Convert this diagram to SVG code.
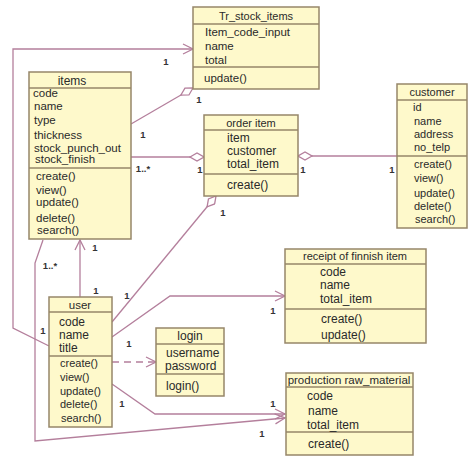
<svg xmlns="http://www.w3.org/2000/svg" width="474" height="470" viewBox="0 0 474 470">
<defs>
<style>
.box{fill:#fef9cb;stroke:#968669;stroke-width:1.5}
.sep{stroke:#968669;stroke-width:1.5}
text{font-family:"Liberation Sans",Arial,sans-serif;fill:#2a2a2a}
.t{font-size:11px;text-anchor:middle}
.a{font-size:11.5px}
.s{font-size:11px}
.c{fill:none;stroke:#b47f9c;stroke-width:1.3}
.d{stroke-dasharray:7,5}
.m{font-size:9.5px;font-weight:bold;text-anchor:middle;fill:#333}
</style>
<marker id="arr" markerUnits="userSpaceOnUse" markerWidth="14" markerHeight="14" viewBox="-11 -7 13 14" refX="0" refY="0" orient="auto">
<path d="M-10,-5 L0,0 L-10,5" fill="none" stroke="#b47f9c" stroke-width="1.3"/>
</marker>
<marker id="dia" markerUnits="userSpaceOnUse" markerWidth="16" markerHeight="10" viewBox="-1 -5 16 10" refX="14" refY="0" orient="auto">
<path d="M0,0 L7,-4 L14,0 L7,4 Z" fill="#ffffff" stroke="#b47f9c" stroke-width="1.3"/>
</marker>
</defs>

<g id="connectors">
<polyline class="c" points="49,346 13,328 13,49 193,49" marker-end="url(#arr)"/>
<line class="c" x1="131" y1="124" x2="193" y2="88" marker-end="url(#dia)"/>
<line class="c" x1="131" y1="157" x2="204" y2="157" marker-end="url(#dia)"/>
<line class="c" x1="397" y1="156" x2="298" y2="156" marker-end="url(#dia)"/>
<line class="c" x1="112" y1="322" x2="216" y2="196" marker-end="url(#dia)"/>
<line class="c" x1="80" y1="297" x2="80" y2="240" marker-end="url(#arr)"/>
<polyline class="c" points="43,240 35,263 35,441 285,418" marker-end="url(#arr)"/>
<polyline class="c" points="112,337 170,296 285,296" marker-end="url(#arr)"/>
<line class="c d" x1="112" y1="362" x2="156" y2="362" marker-end="url(#arr)"/>
<polyline class="c" points="112,384 155,414 285,414" marker-end="url(#arr)"/>
<text class="m" x="166" y="65">1</text>
<text class="m" x="143" y="138">1</text>
<text class="m" x="199" y="103">1</text>
<text class="m" x="143" y="172">1..*</text>
<text class="m" x="200" y="173">1</text>
<text class="m" x="303" y="173">1</text>
<text class="m" x="392" y="173">1</text>
<text class="m" x="223" y="216">1</text>
<text class="m" x="127" y="299">1</text>
<text class="m" x="95" y="251">1</text>
<text class="m" x="96" y="294">1</text>
<text class="m" x="50" y="269">1..*</text>
<text class="m" x="43" y="334">1</text>
<text class="m" x="273" y="314">1</text>
<text class="m" x="129" y="347">1</text>
<text class="m" x="273" y="407">1</text>
<text class="m" x="262" y="437">1</text>
<text class="m" x="122" y="407">1</text>
</g>

<g id="tr_stock_items">
<rect class="box" x="193" y="7" width="126" height="82"/>
<line class="sep" x1="193" y1="24" x2="319" y2="24"/>
<line class="sep" x1="193" y1="67" x2="319" y2="67"/>
<text class="t" x="256" y="20">Tr_stock_items</text>
<text class="a" x="205" y="36">Item_code_input</text>
<text class="a" x="205" y="50">name</text>
<text class="a" x="205" y="64">total</text>
<text class="a" x="204" y="82">update()</text>
</g>

<g id="items">
<rect class="box" x="29" y="72" width="102" height="167"/>
<line class="sep" x1="29" y1="88" x2="131" y2="88"/>
<line class="sep" x1="29" y1="168" x2="131" y2="168"/>
<text class="t" x="72" y="85" style="font-size:12px">items</text>
<text class="a" x="33" y="97">code</text>
<text class="a" x="34" y="110">name</text>
<text class="a" x="34" y="124">type</text>
<text class="a" x="34" y="139">thickness</text>
<text class="a" x="34" y="152">stock_punch_out</text>
<text class="a" x="35" y="163">stock_finish</text>
<text class="a" x="36" y="180">create()</text>
<text class="a" x="36" y="194">view()</text>
<text class="a" x="36" y="206">update()</text>
<text class="a" x="36" y="222">delete()</text>
<text class="a" x="37" y="234">search()</text>
</g>

<g id="order_item">
<rect class="box" x="204" y="115" width="94" height="81"/>
<line class="sep" x1="204" y1="130" x2="298" y2="130"/>
<line class="sep" x1="204" y1="174" x2="298" y2="174"/>
<text class="t" x="251" y="127">order item</text>
<text class="a" x="227" y="142" style="font-size:12px">item</text>
<text class="a" x="227" y="155" style="font-size:12px">customer</text>
<text class="a" x="227" y="168" style="font-size:12px">total_item</text>
<text class="a" x="227" y="189" style="font-size:12px">create()</text>
</g>

<g id="customer">
<rect class="box" x="397" y="84" width="70" height="144"/>
<line class="sep" x1="397" y1="100" x2="467" y2="100"/>
<line class="sep" x1="397" y1="156" x2="467" y2="156"/>
<text class="t" x="432" y="96">customer</text>
<text class="s" x="413" y="111">id</text>
<text class="s" x="414" y="125">name</text>
<text class="s" x="414" y="138">address</text>
<text class="s" x="414" y="151">no_telp</text>
<text class="s" x="414" y="168">create()</text>
<text class="s" x="414" y="182">view()</text>
<text class="s" x="414" y="197">update()</text>
<text class="s" x="414" y="210">delete()</text>
<text class="s" x="415" y="223">search()</text>
</g>

<g id="user">
<rect class="box" x="49" y="297" width="63" height="130"/>
<line class="sep" x1="49" y1="312" x2="112" y2="312"/>
<line class="sep" x1="49" y1="356" x2="112" y2="356"/>
<text class="t" x="80" y="309" style="font-size:11.5px">user</text>
<text class="a" x="59" y="326" style="font-size:12px">code</text>
<text class="a" x="59" y="339" style="font-size:12px">name</text>
<text class="a" x="59" y="352" style="font-size:12px">title</text>
<text class="a" x="60" y="367" style="font-size:11px">create()</text>
<text class="a" x="60" y="381" style="font-size:11px">view()</text>
<text class="a" x="60" y="395" style="font-size:11px">update()</text>
<text class="a" x="60" y="408" style="font-size:11px">delete()</text>
<text class="a" x="61" y="422" style="font-size:11px">search()</text>
</g>

<g id="login">
<rect class="box" x="156" y="328" width="68" height="68"/>
<line class="sep" x1="156" y1="344" x2="224" y2="344"/>
<line class="sep" x1="156" y1="374" x2="224" y2="374"/>
<text class="t" x="190" y="340" style="font-size:12px">login</text>
<text class="a" x="166" y="357" style="font-size:12px">username</text>
<text class="a" x="165" y="370" style="font-size:12px">password</text>
<text class="a" x="166" y="390" style="font-size:12px">login()</text>
</g>

<g id="receipt_of_finnish_item">
<rect class="box" x="285" y="249" width="141" height="94"/>
<line class="sep" x1="285" y1="264" x2="426" y2="264"/>
<line class="sep" x1="285" y1="309" x2="426" y2="309"/>
<text class="t" x="355" y="260">receipt of finnish item</text>
<text class="a" x="320" y="276" style="font-size:12px">code</text>
<text class="a" x="320" y="289" style="font-size:12px">name</text>
<text class="a" x="320" y="303" style="font-size:12px">total_item</text>
<text class="a" x="321" y="323" style="font-size:12px">create()</text>
<text class="a" x="321" y="339" style="font-size:12px">update()</text>
</g>

<g id="production_raw_material">
<rect class="box" x="286" y="373" width="127" height="82"/>
<line class="sep" x1="286" y1="387" x2="413" y2="387"/>
<line class="sep" x1="286" y1="432" x2="413" y2="432"/>
<text class="t" x="349" y="384" style="font-size:11.5px">production raw_material</text>
<text class="a" x="307" y="400" style="font-size:12px">code</text>
<text class="a" x="308" y="415" style="font-size:12px">name</text>
<text class="a" x="307" y="429" style="font-size:12px">total_item</text>
<text class="a" x="308" y="448" style="font-size:12px">create()</text>
</g>
</svg>
